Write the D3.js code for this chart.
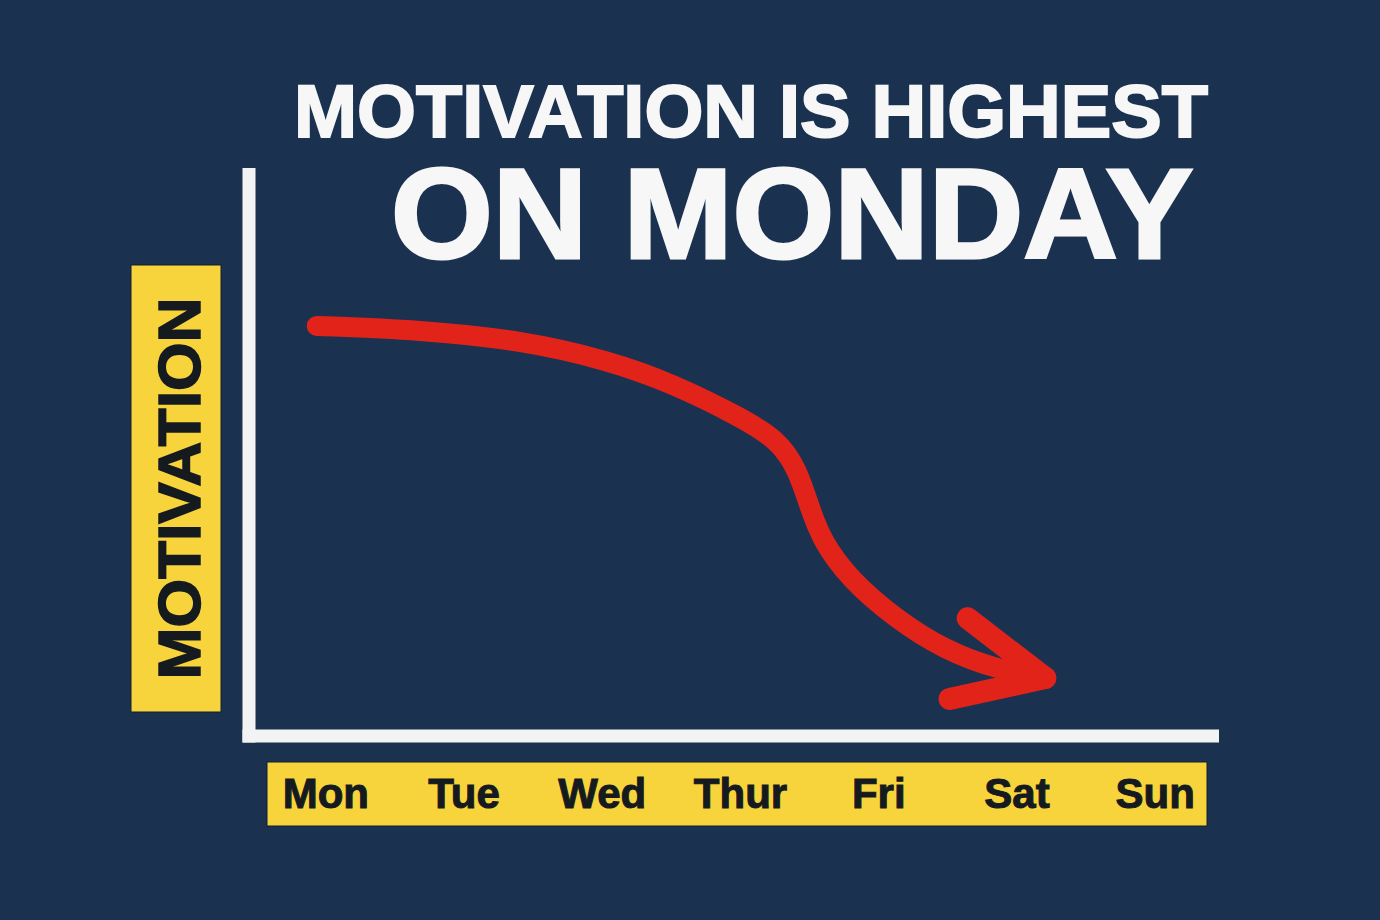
<!DOCTYPE html>
<html>
<head>
<meta charset="utf-8">
<script src="https://cdn.jsdelivr.net/npm/d3@7"></script>
<style>
  html, body { margin: 0; padding: 0; background: #1b3150; }
  svg { display: block; }
  text { font-family: "Liberation Sans", Arial, sans-serif; font-weight: bold; }
</style>
</head>
<body>
<div id="chart"></div>
<script>
// chart data
const days = ["Mon", "Tue", "Wed", "Thur", "Fri", "Sat", "Sun"];
const curveDay = [-0.04, 0.71, 1.43, 2.06, 2.54, 3.02, 3.30, 3.44, 3.52, 3.61, 3.82, 4.13, 4.50, 4.90, 5.23];
const curveValue = [72.2, 71.5, 69.7, 66.2, 62.0, 56.2, 52.1, 46.8, 40.7, 34.5, 27.5, 21.0, 15.1, 11.6, 10.2];
const titleLines = ["MOTIVATION IS HIGHEST", "ON MONDAY"];
const yLabel = "MOTIVATION";

const W = 1380, H = 920;
const plot = { left: 249, right: 1219, top: 168, bottom: 736 };
const tickBox = { x0: 267, x1: 1207, y0: 762, y1: 826 };

const svg = d3.select("#chart")
              .append("svg")
              .attr("width", W)
              .attr("height", H);

svg.append("rect")
   .attr("width", W)
   .attr("height", H)
   .attr("fill", "#1b3150");

// scales
const x = d3.scalePoint()
            .domain(days)
            .range([tickBox.x0, tickBox.x1])
            .padding(0.4);

const xDay = d3.scaleLinear()
               .domain([0, days.length - 1])
               .range([x(days[0]), x(days[days.length - 1])]);

const y = d3.scaleLinear()
            .domain([0, 100])
            .range([plot.bottom, plot.top]);

// title
svg.append("text")
   .attr("x", 294)
   .attr("y", 137)
   .attr("font-size", 75)
   .attr("textLength", 914)
   .attr("lengthAdjust", "spacingAndGlyphs")
   .attr("fill", "#f7f7f7")
   .attr("stroke", "#f7f7f7")
   .attr("stroke-width", 2)
   .text(titleLines[0]);

svg.append("text")
   .attr("x", 391)
   .attr("y", 258)
   .attr("font-size", 128)
   .attr("textLength", 802)
   .attr("lengthAdjust", "spacingAndGlyphs")
   .attr("fill", "#f7f7f7")
   .attr("stroke", "#f7f7f7")
   .attr("stroke-width", 3)
   .text(titleLines[1]);

// axis lines
svg.append("line")
   .attr("x1", plot.left).attr("x2", plot.left)
   .attr("y1", plot.top).attr("y2", plot.bottom + 6.5)
   .attr("stroke", "#f3f3f3")
   .attr("stroke-width", 13);

svg.append("line")
   .attr("x1", plot.left - 6.5).attr("x2", plot.right)
   .attr("y1", plot.bottom).attr("y2", plot.bottom)
   .attr("stroke", "#f3f3f3")
   .attr("stroke-width", 13);

// y label box
svg.append("rect")
   .attr("x", 131).attr("y", 265)
   .attr("width", 90).attr("height", 447)
   .attr("fill", "#f8d43c")
   .attr("stroke", "#13202f")
   .attr("stroke-width", 1);

svg.append("text")
   .attr("transform", "translate(178,488.5) rotate(-90)")
   .attr("text-anchor", "middle")
   .attr("dy", "0.36em")
   .attr("font-size", 60)
   .attr("textLength", 382)
   .attr("lengthAdjust", "spacingAndGlyphs")
   .attr("fill", "#151a1f")
   .attr("stroke", "#151a1f")
   .attr("stroke-width", 1.5)
   .text(yLabel);

// x tick box + labels
svg.append("rect")
   .attr("x", tickBox.x0).attr("y", tickBox.y0)
   .attr("width", tickBox.x1 - tickBox.x0)
   .attr("height", tickBox.y1 - tickBox.y0)
   .attr("fill", "#f8d43c")
   .attr("stroke", "#13202f")
   .attr("stroke-width", 1);

const xAxis = svg.append("g")
                 .attr("transform", `translate(0,${tickBox.y0})`)
                 .call(d3.axisBottom(x).tickSize(0).tickPadding(0));

xAxis.select(".domain").remove();
xAxis.selectAll("text")
     .attr("x", 3)
     .attr("y", 46)
     .attr("dy", 0)
     .attr("font-size", 42)
     .attr("font-family", "'Liberation Sans', Arial, sans-serif")
     .attr("font-weight", "bold")
     .attr("fill", "#151a1f")
     .attr("stroke", "#151a1f")
     .attr("stroke-width", 1);

// red curve (B-spline through the traced points keeps it smooth)
const pts = curveDay.map((d, i) => [xDay(d), y(curveValue[i])]);

const line = d3.line()
               .curve(d3.curveBasis);

svg.append("path")
   .attr("d", line(pts))
   .attr("fill", "none")
   .attr("stroke", "#e2231a")
   .attr("stroke-width", 20)
   .attr("stroke-linecap", "round")
   .attr("stroke-linejoin", "round");

// arrow head, oriented along the last part of the curve
const tip = pts[pts.length - 1];
const angTo = p => Math.atan2(tip[1] - p[1], tip[0] - p[0]);
const ang = (angTo(pts[pts.length - 2]) + angTo(pts[pts.length - 3])) / 2;
const armLen = 98, spread = 25 * Math.PI / 180;

[spread, -spread].forEach(a => {
    const back = ang + Math.PI + a;
    svg.append("line")
       .attr("x1", tip[0])
       .attr("y1", tip[1])
       .attr("x2", tip[0] + armLen * Math.cos(back))
       .attr("y2", tip[1] + armLen * Math.sin(back))
       .attr("stroke", "#e2231a")
       .attr("stroke-width", 22)
       .attr("stroke-linecap", "round");
});
</script>
</body>
</html>
